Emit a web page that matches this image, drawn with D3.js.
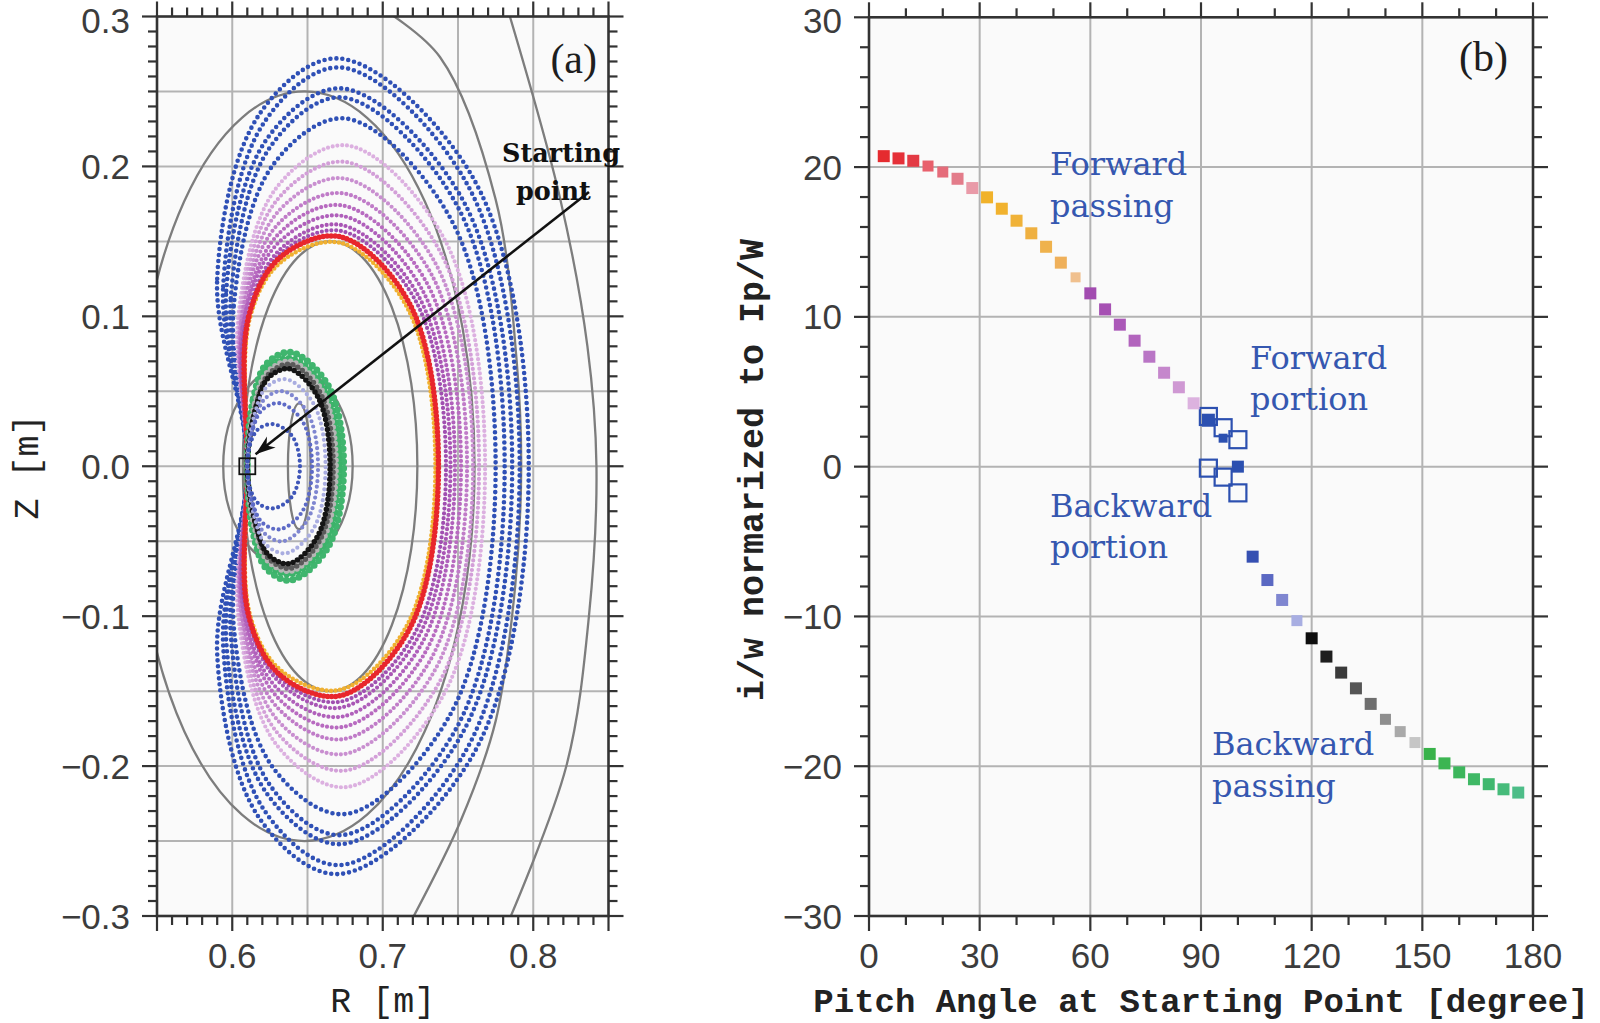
<!DOCTYPE html>
<html><head><meta charset="utf-8">
<script src="https://d3js.org/d3.v7.min.js"></script>
<style>
html,body{margin:0;padding:0;background:#fff;}
svg{display:block;}
</style></head>
<body>
<svg id="chart" width="1600" height="1023" xmlns="http://www.w3.org/2000/svg"></svg>
<script>
// ================= Panel (b) data =================
const pitchAngles = [4,8,12,16,20,24,28,32,36,40,44,48,52,56,60,64,68,72,76,80,84,88,
                     92,96,100,104,108,112,116,120,124,128,132,136,140,144,148,152,156,160,164,168,172,176];
const iwValues = [20.73,20.58,20.42,20.07,19.67,19.22,18.6,17.98,17.22,16.42,15.58,14.68,13.62,12.64,
                  11.57,10.5,9.48,8.41,7.34,6.27,5.3,4.23,
                  3.1,1.9,0.0,-6.01,-7.57,-8.9,-10.28,-11.46,-12.68,-13.75,-14.8,-15.84,-16.87,-17.69,-18.42,
                  -19.18,-19.81,-20.41,-20.87,-21.2,-21.54,-21.76];
const pointColors = ['#e52b2f','#e53038','#e33a44','#e8606c','#e56c7a','#e37c8a','#e99aa8',
                     '#f1b22a','#f1b22e','#f0b238','#efb040','#efb24c','#efb05a','#f0c08e',
                     '#a24bb0','#a650b3','#ab58b8','#b264bd','#b975c5','#c587cc','#cf98d3','#dcb2df',
                     '#2c50b0','#2c50b0','#2c50b0','#3650b2','#5a68c2','#7f86d0','#a8aee2',
                     '#0e0e0e','#1e1e1e','#3a3a3a','#555555','#6e6e6e','#8e8e8e','#a9a9a9','#c6c6c6',
                     '#38b24a','#3cb552','#3cb65c','#3fb865','#40b86e','#46bb7a','#4dbd88'];
const pointSizes = [12,12,12,11,11,12,12,12,12,12,12,12,12,10,12,12,12,12,12,12,12,12,
                    13,9,12,12,12,12,11,12,12,12,12,12,11,11,11,12,12,12,12,12,12,12];
// open squares: forward / backward portions
const portionAngles = [92,96,100,92,96,100];
const portionValues = [3.35,2.6,1.8,-0.1,-0.7,-1.75];

const xTicksB = [0,30,60,90,120,150,180];
const yTicksB = [-30,-20,-10,0,10,20,30];
const xTicksA = [0.6,0.7,0.8];
const yTicksA = [-0.3,-0.2,-0.1,0.0,0.1,0.2,0.3];

// ================= Panel (a) data: orbits =================
const startPoint = [0.61, 0.0];
const orbitColor = ['#2f50b6','#2f50b6','#2f50b6','#2f50b6','#2f50b6',
  '#dcb0e0','#d39fd8','#c98fd0','#c07cc8','#b86bc0','#b060bb','#a956b5','#a04fb0',
  '#f0b030','#e8262c',
  '#40b56e','#3cb36a','#b5b5b5','#5a5a5a','#151515',
  '#a9ade0','#7f86d0','#5d6ac6','#3f56b8'];
const orbitTopZ   = [0.272,0.266,0.252,0.246,0.232, 0.214,0.203,0.192,0.182,0.174,0.167,0.161,0.157,
  0.149,0.153, 0.076,0.072,0.070,0.068,0.065, 0.058,0.050,0.042,0.028];
const orbitTopR   = [0.671,0.672,0.673,0.673,0.675, 0.676,0.675,0.674,0.674,0.673,0.673,0.672,0.672,
  0.672,0.672, 0.639,0.639,0.639,0.639,0.638, 0.636,0.634,0.632,0.628];
const orbitRightR = [0.797,0.791,0.786,0.781,0.775, 0.768,0.764,0.760,0.756,0.752,0.748,0.745,0.742,
  0.735,0.737, 0.674,0.671,0.669,0.667,0.665, 0.662,0.657,0.653,0.645];
const orbitLeftR  = [0.590,0.594,0.596,0.599,0.601, 0.604,0.605,0.606,0.606,0.607,0.607,0.608,0.608,
  0.612,0.611, 0.614,0.615,0.615,0.616,0.616, 0.615,0.615,0.614,0.613];
const orbitLeftZ  = [0.125,0.12,0.117,0.112,0.107, 0.1,0.1,0.1,0.097,0.095,0.093,0.09,0.09,
  0.1,0.1, 0.045,0.043,0.042,0.041,0.04, 0.035,0.03,0.026,0.018];
const orbitDotSize = [4.6,4.6,4.6,4.6,4.6, 4.2,4.2,4.2,4.2,4.2,4.2,4.2,4.2, 4.5,5.5, 7,6.5,5.5,5.5,5.5, 4.2,4.2,4.2,4.2];
const orbitDotGap  = [6,6,6,6,6, 4.8,4.8,4.8,4.8,4.8,4.8,4.8,4.8, 4.5,4, 6.5,6,5.5,5.5,5, 5.5,5.5,5.5,5.5];

// grey solid curves: closed ellipses (centre R, half-width, half-height)
const greyEllC = [0.6445,0.637,0.665,0.648];
const greyEllA = [0.0075,0.043,0.058,0.113];
const greyEllB = [0.042,0.067,0.150,0.250];
// grey open arcs on the right
const greyArcInner = [[0.700,0.305],[0.738,0.273],[0.775,0.178],[0.789,0.07],[0.792,0.0],[0.788,-0.08],[0.775,-0.17],[0.752,-0.236],[0.718,-0.305]];
const greyArcOuter = [[0.783,0.305],[0.818,0.178],[0.836,0.08],[0.842,0.0],[0.837,-0.1],[0.822,-0.2],[0.783,-0.305]];

const arrowFrom = [0.837, 0.183];
const arrowTo = [0.6155, 0.008];

// ================= Layout =================
const svg = d3.select('#chart');
const xA = d3.scaleLinear().domain([0.55,0.85]).range([157,608.5]);
const yA = d3.scaleLinear().domain([-0.3,0.3]).range([916,16.5]);
const xB = d3.scaleLinear().domain([0,180]).range([869,1533]);
const yB = d3.scaleLinear().domain([-30,30]).range([916,17.3]);

const tickFont = "'Liberation Sans', Arial, sans-serif";
const monoFont = "'Liberation Mono', 'DejaVu Sans Mono', monospace";
const serifFont = "'DejaVu Serif', 'Liberation Serif', serif";
const fmtMinus = s => s.replace('-', '\u2212');

function panel(g, x, y, gridX, gridY, minorX, majorX, minorY, majorY, majLen, minLen) {
  const [x0,x1] = x.range(), [y1,y0] = y.range();
  g.append('rect').attr('x',x0).attr('y',y0).attr('width',x1-x0).attr('height',y1-y0).attr('fill','#fafafa');
  g.selectAll('.gx').data(gridX).enter().append('line')
    .attr('x1',d=>x(d)).attr('x2',d=>x(d)).attr('y1',y0).attr('y2',y1)
    .attr('stroke','#b3b3b3').attr('stroke-width',2);
  g.selectAll('.gy').data(gridY).enter().append('line')
    .attr('y1',d=>y(d)).attr('y2',d=>y(d)).attr('x1',x0).attr('x2',x1)
    .attr('stroke','#b3b3b3').attr('stroke-width',2);
  const tk = g.append('g').attr('stroke','#333').attr('stroke-width',2.2);
  const isMaj = (v, arr) => arr.some(m => Math.abs(m-v) < 1e-9);
  minorX.forEach(v => {
    const L = isMaj(v, majorX) ? majLen : minLen;
    tk.append('line').attr('x1',x(v)).attr('x2',x(v)).attr('y1',y1).attr('y2',y1+L);
    tk.append('line').attr('x1',x(v)).attr('x2',x(v)).attr('y1',y0).attr('y2',y0-L);
  });
  minorY.forEach(v => {
    const L = isMaj(v, majorY) ? majLen : minLen;
    tk.append('line').attr('y1',y(v)).attr('y2',y(v)).attr('x1',x0).attr('x2',x0-L);
    tk.append('line').attr('y1',y(v)).attr('y2',y(v)).attr('x1',x1).attr('x2',x1+L);
  });
}

// ---------- Panel (a) ----------
const gA = svg.append('g');
panel(gA, xA, yA,
  [0.6,0.65,0.7,0.75,0.8],
  [-0.25,-0.2,-0.15,-0.1,-0.05,0,0.05,0.1,0.15,0.2,0.25],
  d3.range(55,86).map(v=>v/100), [0.55,0.6,0.7,0.8,0.85],
  d3.range(-30,31).map(v=>v/100), yTicksA, 15, 9);

svg.append('defs').append('clipPath').attr('id','clipA')
  .append('rect').attr('x',xA(0.55)).attr('y',yA(0.3)).attr('width',xA(0.85)-xA(0.55)).attr('height',yA(-0.3)-yA(0.3));

const plotA = gA.append('g').attr('clip-path','url(#clipA)');
const lineA = d3.line().x(d=>xA(d[0])).y(d=>yA(d[1]));

// grey ellipses
greyEllC.forEach((c,i) => {
  plotA.append('ellipse').attr('cx',xA(c)).attr('cy',yA(0))
    .attr('rx',xA(c+greyEllA[i])-xA(c)).attr('ry',yA(0)-yA(greyEllB[i]))
    .attr('fill','none').attr('stroke','#7d7d7d').attr('stroke-width',2.3);
});
[greyArcInner, greyArcOuter].forEach(arc => {
  plotA.append('path').attr('d', lineA.curve(d3.curveCatmullRom.alpha(0.5))(arc))
    .attr('fill','none').attr('stroke','#7d7d7d').attr('stroke-width',2.3);
});

// dotted orbits
function orbitPts(i){
  const Zt=orbitTopZ[i], Rt=orbitTopR[i], Rr=orbitRightR[i], Rl=orbitLeftR[i], Zl=orbitLeftZ[i];
  const ul=[Rl+(Rt-Rl)*0.35, Zl+(Zt-Zl)*0.75];
  const ur=[Rt+(Rr-Rt)*0.707, Zt*0.707];
  return [startPoint,[Rl,Zl],ul,[Rt,Zt],ur,[Rr,0],[ur[0],-ur[1]],[Rt,-Zt],[ul[0],-ul[1]],[Rl,-Zl]];
}
const closedLine = d3.line().x(d=>xA(d[0])).y(d=>yA(d[1])).curve(d3.curveCatmullRomClosed.alpha(0.5));
orbitColor.forEach((col,i) => {
  plotA.append('path').attr('d', closedLine(orbitPts(i)))
    .attr('fill','none').attr('stroke',col)
    .attr('stroke-width',orbitDotSize[i]).attr('stroke-linecap','round')
    .attr('stroke-dasharray',`0 ${orbitDotGap[i]}`);
});

// starting point marker
plotA.append('rect').attr('x',xA(startPoint[0])-8).attr('y',yA(startPoint[1])-8)
  .attr('width',16).attr('height',16).attr('fill','none').attr('stroke','#111').attr('stroke-width',1.8);

// frame
gA.append('rect').attr('x',xA(0.55)).attr('y',yA(0.3)).attr('width',xA(0.85)-xA(0.55))
  .attr('height',yA(-0.3)-yA(0.3)).attr('fill','none').attr('stroke','#333').attr('stroke-width',2.6);

// arrow
const defs = svg.select('defs');
defs.append('marker').attr('id','arrowHead').attr('viewBox','-20 -10 22 20')
  .attr('refX',0).attr('refY',0).attr('markerWidth',22).attr('markerHeight',20)
  .attr('markerUnits','userSpaceOnUse').attr('orient','auto')
  .append('path').attr('d','M0,0 L-20,-7 L-14,0 L-20,7 Z').attr('fill','#111');
gA.append('line').attr('x1',xA(arrowFrom[0])).attr('y1',yA(arrowFrom[1]))
  .attr('x2',xA(arrowTo[0])).attr('y2',yA(arrowTo[1]))
  .attr('stroke','#111').attr('stroke-width',2.6).attr('marker-end','url(#arrowHead)');

// tick labels (a)
gA.selectAll('.ylab').data(yTicksA).enter().append('text')
  .attr('x',130).attr('y',d=>Math.max(yA(d)+12.5, 33)).attr('text-anchor','end')
  .attr('font-family',tickFont).attr('font-size',35).attr('fill','#3c3c3c')
  .text(d=>fmtMinus(d3.format('.1f')(d)));
gA.selectAll('.xlab').data(xTicksA).enter().append('text')
  .attr('x',d=>xA(d)).attr('y',968).attr('text-anchor','middle')
  .attr('font-family',tickFont).attr('font-size',35).attr('fill','#3c3c3c')
  .text(d=>d3.format('.1f')(d));
gA.append('text').attr('x',xA(0.7)).attr('y',1012).attr('text-anchor','middle')
  .attr('font-family',monoFont).attr('font-size',35).attr('fill','#222').text('R [m]');
gA.append('text').attr('transform','translate(38,467) rotate(-90)').attr('text-anchor','middle')
  .attr('font-family',monoFont).attr('font-size',35).attr('fill','#222').text('Z [m]');
gA.append('text').attr('x',597).attr('y',73).attr('text-anchor','end')
  .attr('font-family',"'Liberation Serif', serif").attr('font-size',42).attr('fill','#1e1e1e').text('(a)');
gA.append('text').attr('x',502).attr('y',162)
  .attr('font-family',serifFont).attr('font-weight','bold').attr('font-size',25.5).attr('fill','#111').text('Starting');
gA.append('text').attr('x',516).attr('y',200)
  .attr('font-family',serifFont).attr('font-weight','bold').attr('font-size',25.5).attr('fill','#111').text('point');

// ---------- Panel (b) ----------
const gB = svg.append('g');
panel(gB, xB, yB, [30,60,90,120,150], [-20,-10,0,10,20],
  d3.range(0,181,10), xTicksB, d3.range(-30,31,2), yTicksB, 15, 9);

const pts = pitchAngles.map((a,i)=>({a, v: iwValues[i], c: pointColors[i], s: pointSizes[i]}));
const opens = portionAngles.map((a,i)=>({a, v: portionValues[i]}));
gB.selectAll('.open').data(opens).enter().append('rect')
  .attr('x',d=>xB(d.a)-8.5).attr('y',d=>yB(d.v)-8.5).attr('width',17).attr('height',17)
  .attr('fill','none').attr('stroke','#2c50b0').attr('stroke-width',2.2);
gB.selectAll('.pt').data(pts).enter().append('rect')
  .attr('x',d=>xB(d.a)-d.s/2).attr('y',d=>yB(d.v)-d.s/2).attr('width',d=>d.s).attr('height',d=>d.s)
  .attr('fill',d=>d.c);

gB.append('rect').attr('x',xB(0)).attr('y',yB(30)).attr('width',xB(180)-xB(0))
  .attr('height',yB(-30)-yB(30)).attr('fill','none').attr('stroke','#333').attr('stroke-width',2.6);

gB.selectAll('.ylab').data(yTicksB).enter().append('text')
  .attr('x',842).attr('y',d=>Math.max(yB(d)+12.5, 33)).attr('text-anchor','end')
  .attr('font-family',tickFont).attr('font-size',35).attr('fill','#3c3c3c')
  .text(d=>fmtMinus(String(d)));
gB.selectAll('.xlab').data(xTicksB).enter().append('text')
  .attr('x',d=>xB(d)).attr('y',968).attr('text-anchor','middle')
  .attr('font-family',tickFont).attr('font-size',35).attr('fill','#3c3c3c')
  .text(d=>String(d));
gB.append('text').attr('x',1201).attr('y',1012).attr('text-anchor','middle')
  .attr('font-family',monoFont).attr('font-weight','bold').attr('font-size',34).attr('fill','#222')
  .text('Pitch Angle at Starting Point [degree]');
gB.append('text').attr('transform','translate(763,470) rotate(-90)').attr('text-anchor','middle')
  .attr('font-family',monoFont).attr('font-weight','bold').attr('font-size',35).attr('fill','#222')
  .text('i/w normarized to Ip/W');
gB.append('text').attr('x',1508).attr('y',71).attr('text-anchor','end')
  .attr('font-family',"'Liberation Serif', serif").attr('font-size',42).attr('fill','#1e1e1e').text('(b)');

const notes = [
  {x:1050, y:175, t:'Forward'}, {x:1050, y:217, t:'passing'},
  {x:1250, y:369, t:'Forward'}, {x:1250, y:410, t:'portion'},
  {x:1050, y:517, t:'Backward'}, {x:1050, y:558, t:'portion'},
  {x:1212, y:755, t:'Backward'}, {x:1212, y:797, t:'passing'}
];
gB.selectAll('.note').data(notes).enter().append('text')
  .attr('x',d=>d.x).attr('y',d=>d.y)
  .attr('font-family',serifFont).attr('font-size',32).attr('fill','#3557b0')
  .text(d=>d.t);
</script>
</body></html>
